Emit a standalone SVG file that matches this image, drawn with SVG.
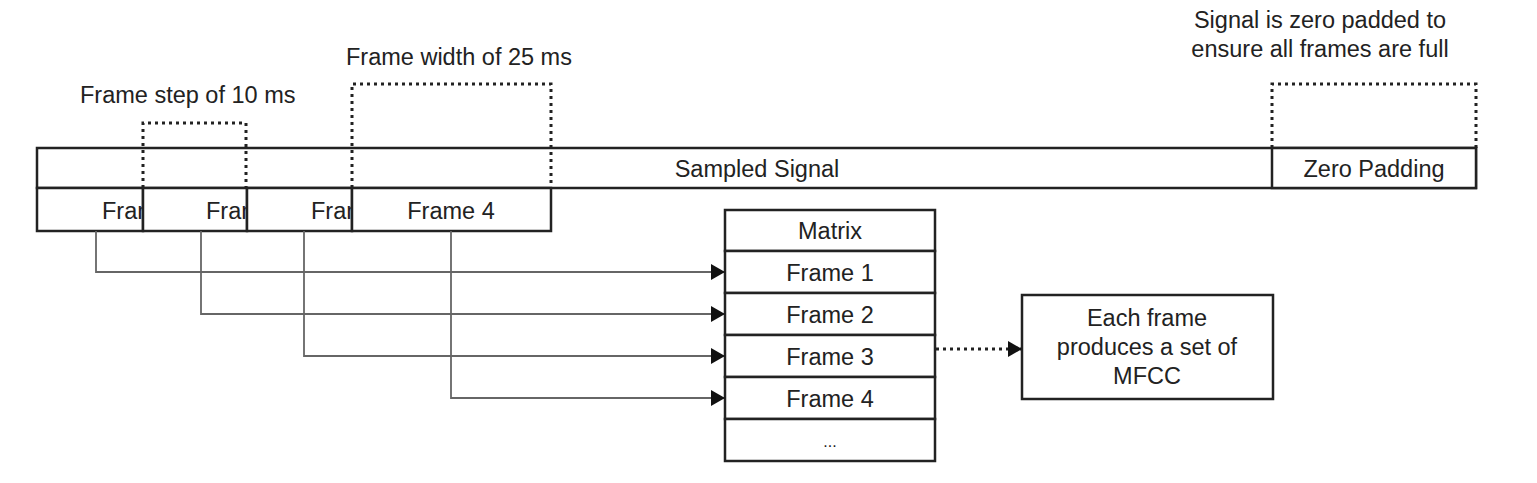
<svg xmlns="http://www.w3.org/2000/svg" width="1537" height="483" viewBox="0 0 1537 483">
<defs>
<style>
text{font-family:"Liberation Sans",Arial,sans-serif;font-size:23.5px;fill:#222}
.b{fill:#fff;stroke:#222;stroke-width:2.5}
.d{fill:none;stroke:#222;stroke-width:3;stroke-dasharray:3 4}
.c{fill:none;stroke:#666;stroke-width:1.8}
</style>
<marker id="a" markerWidth="14" markerHeight="16" refX="13" refY="8" orient="auto" markerUnits="userSpaceOnUse"><path d="M0,0 L14,8 L0,16 Z" fill="#111"/></marker>
<clipPath id="c1"><rect x="37" y="188" width="106" height="43"/></clipPath>
<clipPath id="c2"><rect x="143" y="188" width="104" height="43"/></clipPath>
<clipPath id="c3"><rect x="247" y="188" width="105" height="43"/></clipPath>
</defs>
<rect width="1537" height="483" fill="#fff"/>
<g id="signal"><rect class="b" x="37" y="148" width="1439" height="40"/><text x="757" y="177" text-anchor="middle">Sampled Signal</text></g>
<g id="zero"><rect class="b" x="1272" y="148" width="204" height="40"/><text x="1374" y="177" text-anchor="middle">Zero Padding</text></g>
<g id="f1"><rect class="b" x="37" y="188" width="106" height="43"/><text x="102" y="219" clip-path="url(#c1)">Frame 1</text></g>
<g id="f2"><rect class="b" x="143" y="188" width="104" height="43"/><text x="206" y="219" clip-path="url(#c2)">Frame 2</text></g>
<g id="f3"><rect class="b" x="247" y="188" width="105" height="43"/><text x="311" y="219" clip-path="url(#c3)">Frame 3</text></g>
<g id="f4"><rect class="b" x="352" y="188" width="199" height="43"/><text x="451" y="219" text-anchor="middle">Frame 4</text></g>
<g id="brackets">
<path class="d" d="M143,188 V123 H246 V188"/>
<path class="d" d="M352,188 V84 H551 V188"/>
<path class="d" d="M1272,148 V84 H1476 V148"/>
</g>
<g id="labels">
<text x="80" y="103">Frame step of 10 ms</text>
<text x="346" y="65">Frame width of 25 ms</text>
<text x="1320" y="28" text-anchor="middle">Signal is zero padded to</text>
<text x="1320" y="57" text-anchor="middle">ensure all frames are full</text>
</g>
<g id="matrix">
<rect class="b" x="725" y="210" width="210" height="41"/><text x="830" y="239" text-anchor="middle">Matrix</text>
<rect class="b" x="725" y="251" width="210" height="42"/><text x="830" y="281" text-anchor="middle">Frame 1</text>
<rect class="b" x="725" y="293" width="210" height="42"/><text x="830" y="323" text-anchor="middle">Frame 2</text>
<rect class="b" x="725" y="335" width="210" height="42"/><text x="830" y="365" text-anchor="middle">Frame 3</text>
<rect class="b" x="725" y="377" width="210" height="42"/><text x="830" y="407" text-anchor="middle">Frame 4</text>
<rect class="b" x="725" y="419" width="210" height="42"/><text x="830" y="447" text-anchor="middle" style="font-size:16px">...</text>
</g>
<g id="mfcc"><rect class="b" x="1022" y="295" width="251" height="104"/>
<text x="1147" y="326" text-anchor="middle">Each frame</text>
<text x="1147" y="355" text-anchor="middle">produces a set of</text>
<text x="1147" y="384" text-anchor="middle">MFCC</text></g>
<g id="connectors">
<path class="c" d="M96,231 V272 H724" marker-end="url(#a)"/>
<path class="c" d="M201,231 V314 H724" marker-end="url(#a)"/>
<path class="c" d="M304,231 V356 H724" marker-end="url(#a)"/>
<path class="c" d="M451,231 V398 H724" marker-end="url(#a)"/>
<path class="d" d="M936,349 H1021" marker-end="url(#a)"/>
</g>
</svg>
